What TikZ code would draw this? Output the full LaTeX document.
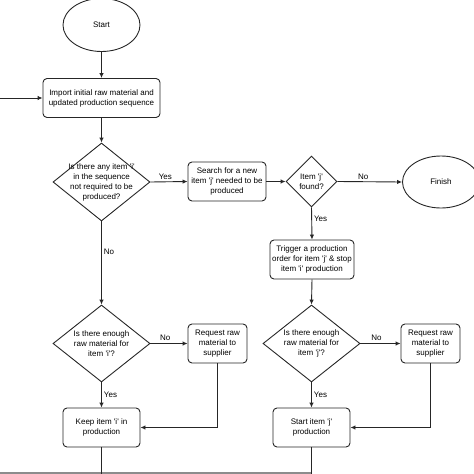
\documentclass[tikz,border=0pt]{standalone}
\usepackage{fontspec}
\setmainfont{Liberation Sans}
\usepackage{xcolor}
\definecolor{flowline}{gray}{.15}
\definecolor{cutline}{gray}{.55}
\usepackage{tikz}
\usetikzlibrary{arrows.meta}
\usetikzlibrary{shapes.geometric}
\newcommand{\q}[1]{\textquotesingle#1\textquotesingle}
\newcommand{\widthdecision}{97pt}
\newcommand{\heightdecision}{77pt}
\newcommand{\widthrequest}{59pt}
\newcommand{\heightbox}{39pt}
\tikzset{
    common/.style={draw=flowline, line width=0.9pt, align=center, inner sep=1pt,
                   font=\fontsize{8}{10}\selectfont},
    process/.style={common, rectangle, rounded corners=4pt, minimum height=\heightbox},
    terminal/.style={common, ellipse, minimum width=77pt, minimum height=53pt},
    decision/.style={common, diamond, inner sep=0pt, minimum width=\widthdecision, minimum height=\heightdecision},
    says/.style={label={[align=center, font=\fontsize{8}{10}\selectfont]center:{#1}}},
    flow/.style={draw=flowline, line width=0.9pt, -{Latex[length=5pt, width=4.5pt]}},
    plain/.style={draw=flowline, line width=0.9pt},
    answer/.style={font=\fontsize{8}{10}\selectfont, inner sep=2pt}
}
\begin{document}
\begin{tikzpicture}[x=1pt, y=-1pt]
            \useasboundingbox (0,0) rectangle (474,474);
            \clip (0,0) rectangle (474,474);

            % cut-off return line at the bottom
            \draw[cutline, line width=2.4pt] (0,472.8) -- (311.5,472.8);

            \path
                (101.5,25) node[terminal] (start) {Start}
                (101.5,98) node[process, minimum width=117pt] (import)
                    {Import initial raw material and\\updated production sequence}
                (101.5,182) node[decision, minimum height=78pt,
                          says={Is there any item \q{i}\\in the sequence\\not required to be\\produced?}
                              ] (any-i) {}
                (227,181.5) node[process, minimum width=78pt] (search)
                    {Search for a new\\item \q{j} needed to be\\produced}
                (311.5,181.5) node[decision, minimum width=51pt, minimum height=51pt,
                          says={Item \q{j}\\found?}
                              ] (found-j) {}
                (441,182) node[terminal, minimum height=52pt] (finish) {Finish}
                (312,259.5) node[process, minimum width=84pt] (trigger)
                    {Trigger a production\\order for item \q{j} \& stop\\item \q{i} production}
                (101.5,343.5) node[decision,
                          says={Is there enough\\raw material for\\item \q{i}?}
                              ] (enough-i) {}
                (311.5,343.5) node[decision,
                          says={Is there enough\\raw material for\\item \q{j}?}
                              ] (enough-j) {}
                (217.5,343.5) node[process, minimum width=\widthrequest] (request-i)
                    {Request raw\\material to\\supplier}
                (430.5,343.5) node[process, minimum width=\widthrequest] (request-j)
                    {Request raw\\material to\\supplier}
                (101.5,427.5) node[process, minimum width=77pt] (keep-i)
                    {Keep item \q{i} in\\production}
                (311.5,427.5) node[process, minimum width=77pt] (start-j)
                    {Start item \q{j}\\production};

            \coordinate (loop-in) at (0,98);
            \coordinate (keep-out) at (101.5,474);
            \coordinate (start-out) at (311.5,474);

            \draw[flow] (start) -- (import);
            \draw[flow] (loop-in) -- (import.west);
            \draw[flow] (import) -- (any-i.north);
            \draw[flow] (any-i.east) -- node[answer, above, pos=0.4]{Yes} (search.west);
            \draw[flow] (search.east) -- (found-j.west);
            \draw[flow] (found-j.east) -- node[answer, above, pos=0.4]{No} (finish.west);
            \draw[flow] (found-j.south) -- node[answer, right, pos=0.35]{Yes} (trigger.north);
            \draw[flow] (trigger.south) -- (enough-j.north);
            \draw[flow] (any-i.south) -- node[answer, right, pos=0.37]{No} (enough-i.north);
            \draw[flow] (enough-i.east) -- node[answer, above, pos=0.4]{No} (request-i.west);
            \draw[flow] (enough-j.east) -- node[answer, above, pos=0.4]{No} (request-j.west);
            \draw[flow] (enough-i.south) -- node[answer, right]{Yes} (keep-i.north);
            \draw[flow] (enough-j.south) -- node[answer, right]{Yes} (start-j.north);
            \draw[flow] (request-i.south) |- (keep-i.east);
            \draw[flow] (request-j.south) |- (start-j.east);
            \draw[plain] (keep-i.south) -- (keep-out);
            \draw[plain] (start-j.south) -- (start-out);
        \end{tikzpicture}
\end{document}
